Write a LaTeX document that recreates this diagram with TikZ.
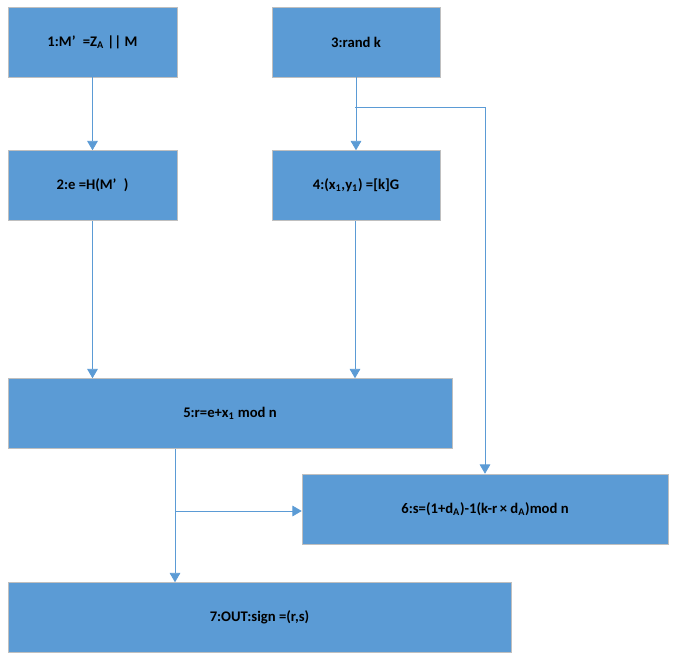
\documentclass[tikz,border=0pt]{standalone}
\usepackage{fontspec}
\setmainfont{Carlito}
\usetikzlibrary{arrows.meta,positioning}
\definecolor{boxblue}{HTML}{5B9BD5}
\definecolor{boxline}{HTML}{BFBFBF}
\tikzset{
  stepbox/.style={draw=boxline, fill=boxblue, minimum height=52.5pt, inner sep=0pt, font=\fontsize{11}{13}\selectfont\bfseries},
  flow/.style={draw=boxblue, semithick, -{Triangle[width=8pt,length=7pt]}}
}
\begin{document}
\begin{tikzpicture}[x=0.75pt,y=-0.75pt]
\useasboundingbox (0,0) rectangle (679,661);
     \node[stepbox, minimum width=126.75pt] (m) at (92.5,42) {1:M’\enspace=Z\textsubscript{A} || M};
     \node[stepbox, minimum width=126pt] (k) at (356,42) {3:rand k};
     \node[stepbox, minimum width=126.75pt] (e) at (92.5,185.5) {2:e =H(M’\enspace)};
     \node[stepbox, minimum width=126pt] (g) at (356,185.5) {4:(x\textsubscript{1},y\textsubscript{1}) =[k]G};
     \node[stepbox, minimum width=333pt] (r) at (230,413.5) {5:r=e+x\textsubscript{1} mod n};
     \node[stepbox, minimum width=274.5pt] (s) at (485,509) {6:s=(1+d\textsubscript{A})-1(k-r\,\texttimes\ d\textsubscript{A})mod n};
     \node[stepbox, minimum width=377.25pt] (o) at (259.5,617.5) {7:OUT:sign =(r,s)};
     \coordinate (kb) at (355,107);
     \coordinate (kc) at (485,107);
     \coordinate (rb) at (175,449);
     \coordinate (rj) at (175,511);
     \draw[flow] (m) -- (e);
     \draw[flow] (k) -- (g);
     \draw[flow] (kb) -- (kc) -- (s);
     \draw[flow] (e.south) -- (e.south |- r.north);
     \draw[flow] (g.south -| kb) -- (kb |- r.north);
     \draw[flow] (rb) -- (rb |- o.north);
     \draw[flow] (rj) -- (rj -| s.west);
\end{tikzpicture}
\end{document}
